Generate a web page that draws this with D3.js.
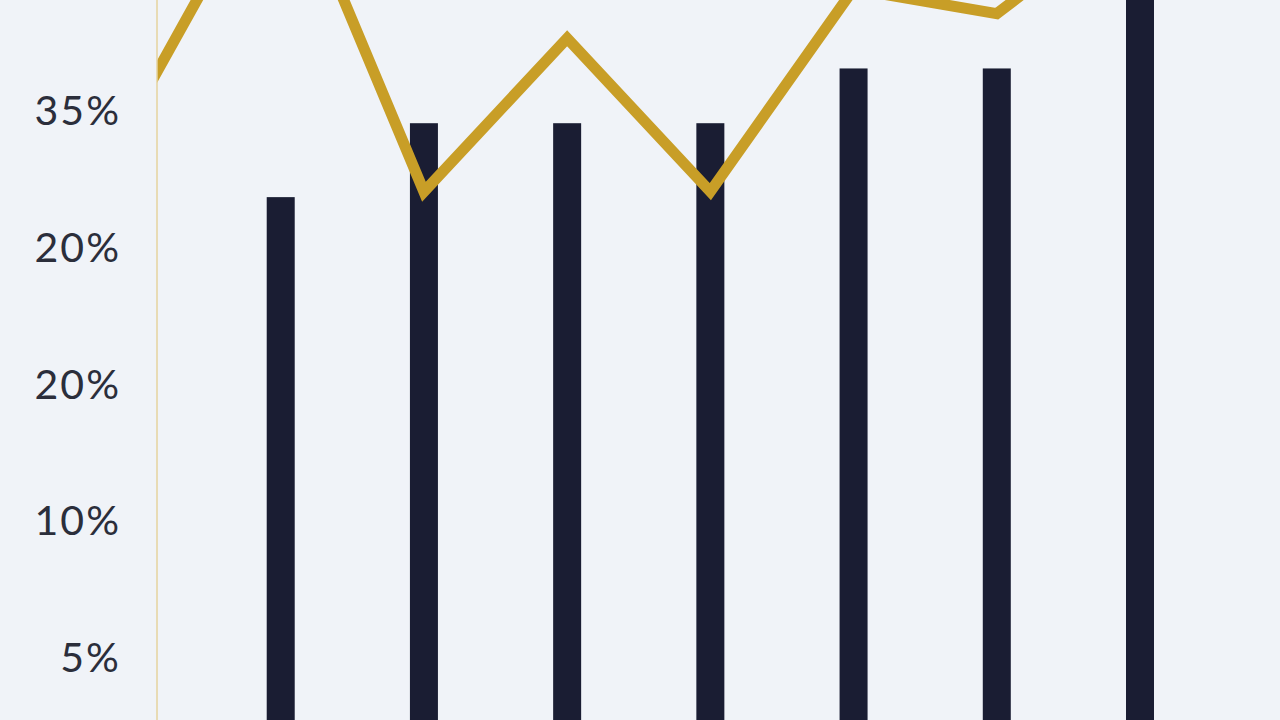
<!DOCTYPE html>
<html>
<head>
<meta charset="utf-8">
<script src="https://cdn.jsdelivr.net/npm/d3@7"></script>
<style>
  html, body { margin: 0; padding: 0; background: #f0f3f8; }
  svg { display: block; }
</style>
</head>
<body>
<svg id="chart" width="1280" height="720"></svg>
<script>
// ---- data ----
const categories = ["P0", "P1", "P2", "P3", "P4", "P5", "P6", "P7"];
const barValues  = [null, 21.8, 24.5, 24.5, 24.5, 26.5, 26.5, 30.5];
const lineValues = [25.1, 34.5, 22.0, 27.6, 22.0, 29.4, 28.5, 32.5];
const tickValues = [5, 10, 15, 20, 25];
const tickLabels = ["5%", "10%", "20%", "20%", "35%"];

// ---- layout ----
const W = 1280, H = 720;
const axisX = 157;
const svg = d3.select("#chart");

svg.append("rect").attr("width", W).attr("height", H).attr("fill", "#f0f3f8");

const x = d3.scalePoint().domain(categories).range([137.5, 1140]);
const y = d3.scaleLinear().domain([0, 29]).range([794, 0]);

svg.append("defs").append("clipPath").attr("id", "plot")
  .append("rect").attr("x", axisX).attr("y", -50).attr("width", W - axisX).attr("height", H + 100);

const plot = svg.append("g").attr("clip-path", "url(#plot)");

// bars
const barW = 28;
plot.selectAll("rect.bar")
  .data(categories.map((c, i) => ({ c, v: barValues[i] })).filter(d => d.v != null))
  .join("rect")
  .attr("class", "bar")
  .attr("x", d => x(d.c) - barW / 2)
  .attr("width", barW)
  .attr("y", d => y(d.v))
  .attr("height", d => y(0) - y(d.v))
  .attr("fill", "#1a1d33");

// line
const line = d3.line()
  .x((d, i) => x(categories[i]))
  .y(d => y(d));
plot.append("path")
  .datum(lineValues)
  .attr("d", line)
  .attr("fill", "none")
  .attr("stroke", "#c89e27")
  .attr("stroke-width", 11)
  .attr("stroke-linejoin", "miter")
  .attr("stroke-miterlimit", 10);

// y axis
const yAxis = d3.axisLeft(y)
  .tickValues(tickValues)
  .tickFormat((d, i) => tickLabels[i])
  .tickSize(0)
  .tickPadding(36);
const ga = svg.append("g").attr("transform", `translate(${axisX},0)`).call(yAxis);
ga.select(".domain").remove();
ga.selectAll("text")
  .attr("font-family", "Lato, 'Open Sans', sans-serif")
  .attr("font-size", 41)
  .attr("fill", "#2b2e3b")
  .attr("letter-spacing", 2)
  .attr("dy", "0.36em");

svg.append("line")
  .attr("x1", axisX).attr("x2", axisX)
  .attr("y1", 0).attr("y2", H)
  .attr("stroke", "#e6d39f")
  .attr("stroke-width", 1.5);
</script>
</body>
</html>
